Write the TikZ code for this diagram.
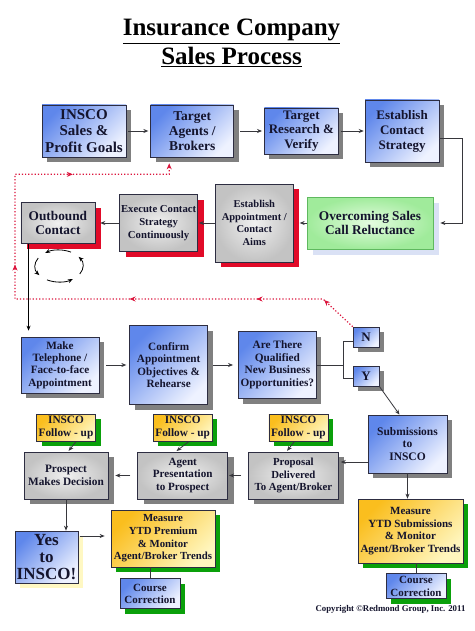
\documentclass[tikz,border=0pt]{standalone}
\usepackage{fontspec}
\setmainfont{Liberation Serif}
\usepackage{tikz}
\usetikzlibrary{shapes,arrows.meta,positioning,shadows,decorations.markings,calc}

\definecolor{ink}{RGB}{20,20,45}
\definecolor{boxline}{RGB}{45,45,65}
\definecolor{blueA}{RGB}{95,135,235}
\definecolor{blueB}{RGB}{238,242,255}
\definecolor{goldA}{RGB}{250,190,30}
\definecolor{goldB}{RGB}{255,246,190}
\definecolor{greyA}{RGB}{240,240,240}
\definecolor{greyB}{RGB}{195,195,195}
\definecolor{greenA}{RGB}{228,252,224}
\definecolor{greenB}{RGB}{160,235,155}
\definecolor{greenline}{RGB}{95,185,95}
\definecolor{shadegray}{RGB}{128,128,128}
\definecolor{shadered}{RGB}{225,10,40}
\definecolor{shadegreen}{RGB}{10,160,10}
\definecolor{shadelilac}{RGB}{218,225,245}
\definecolor{shadecream}{RGB}{255,248,195}
\definecolor{fbred}{RGB}{220,20,60}
\definecolor{linkgray}{RGB}{55,55,60}

\begin{document}
\begin{tikzpicture}[
    x=1pt, y=-1pt,
    >={Stealth[length=5pt,width=4pt]},
    txt/.style 2 args={font=\fontsize{#1}{#2}\selectfont\bfseries},
    box/.style={rectangle, draw=boxline, line width=0.7pt, align=center, inner sep=1pt, text=ink},
    bluebox/.style={box, left color=blueA, right color=blueB, shading angle=45, drop shadow={shadow xshift=5pt, shadow yshift=-5pt, fill=#1, opacity=1}},
    bluebox/.default=shadegray,
    greybox/.style={box, inner color=greyA, outer color=greyB, drop shadow={shadow xshift=6pt, shadow yshift=-5pt, fill=#1, opacity=1}},
    greybox/.default=shadered,
    goldbox/.style={box, left color=goldA, right color=goldB, shading angle=45, drop shadow={shadow xshift=5pt, shadow yshift=-5pt, fill=shadegreen, opacity=1}},
    greenbox/.style={box, draw=greenline, inner color=greenA, outer color=greenB, drop shadow={shadow xshift=6pt, shadow yshift=-6pt, fill=shadelilac, opacity=1}},
    link/.style={draw=linkgray, line width=0.8pt},
    feedback/.style={draw=fbred, line width=1.2pt, dotted}
]
\fill[white] (0,0) rectangle (474,631);
\useasboundingbox (0,0) rectangle (474,631);

% Title
\node[txt={25}{28}, anchor=base] (title1) at (231.5,36) {\underline{Insurance Company}};
\node[txt={25}{28}, anchor=base] (title2) at (231.5,65) {\underline{Sales Process}};

% Planning row
\node[bluebox, txt={15}{16.7}, minimum width=84pt, minimum height=52pt] (goals) at (84,131) {INSCO\\Sales \&\\Profit Goals};
\node[bluebox, txt={13.5}{15}, minimum width=83pt, minimum height=52pt, right=24pt of goals] (agents) {Target\\Agents /\\Brokers};
\node[bluebox, txt={13}{14.7}, minimum width=74pt, minimum height=46pt, right=30pt of agents] (research) {Target\\Research \&\\Verify};
\node[bluebox, txt={13}{15}, minimum width=74pt, minimum height=62pt, right=26pt of research] (strategy) {Establish\\Contact\\Strategy};

% Contact row
\node[greenbox, txt={13.3}{14}, minimum width=126pt, minimum height=52pt] (overcome) at (370,223) {Overcoming Sales\\Call Reluctance};
\node[greybox, txt={10.5}{12.7}, minimum width=78pt, minimum height=78pt, left=13pt of overcome] (appoint) {Establish\\Appointment /\\Contact\\Aims};
\node[greybox, txt={10.7}{12.7}, minimum width=78pt, minimum height=57pt, left=17pt of appoint] (execute) {Execute Contact\\Strategy\\Continuously};
\node[greybox, txt={13.3}{14}, minimum width=74pt, minimum height=41pt, left=24pt of execute] (outbound) {Outbound\\Contact};

% Appointment row
\node[bluebox, txt={11.2}{12.3}, minimum width=78pt, minimum height=56pt] (make) at (60,365) {Make\\Telephone /\\Face-to-face\\Appointment};
\node[bluebox, txt={11.2}{12.4}, minimum width=78pt, minimum height=79pt, right=30pt of make] (confirm) {Confirm\\Appointment\\Objectives \&\\Rehearse};
\node[bluebox, txt={11.3}{12.5}, minimum width=78pt, minimum height=67pt, right=30pt of confirm] (question) {Are There\\Qualified\\New Business\\Opportunities?};
\node[bluebox, txt={13}{14}, minimum width=26pt, minimum height=20pt] (N) at (366,337) {N};
\node[bluebox, txt={13}{14}, minimum width=26pt, minimum height=20pt] (Y) at (366,376) {Y};

% Proposal row
\node[greybox=shadegray, txt={11.3}{12.5}, minimum width=84pt, minimum height=47pt] (prospect) at (66,475.5) {Prospect\\Makes Decision};
\node[greybox=shadegray, txt={11.1}{12.5}, minimum width=90pt, minimum height=47pt, right=29pt of prospect] (agent) {Agent\\Presentation\\to Prospect};
\node[greybox=shadegray, txt={10.8}{12.5}, minimum width=90pt, minimum height=47pt, right=20pt of agent] (proposal) {Proposal\\Delivered\\To Agent/Broker};
\node[bluebox, txt={11.5}{12.5}, minimum width=79pt, minimum height=58pt] (subm) at (407.5,444) {Submissions\\to\\INSCO};
\node[goldbox, txt={11.3}{12.7}, minimum width=59pt, minimum height=27pt, above=10pt of prospect] (fupA) {INSCO\\Follow - up};
\node[goldbox, txt={11.3}{12.7}, minimum width=59pt, minimum height=27pt, above=10pt of agent] (fupB) {INSCO\\Follow - up};
\node[goldbox, txt={11.3}{12.7}, minimum width=59pt, minimum height=27pt, above=10pt of proposal, xshift=5pt] (fupC) {INSCO\\Follow - up};

% Results row
\node[bluebox=shadecream, txt={17}{16.7}, minimum width=63pt, minimum height=52pt] (yes) at (46.5,557) {Yes\\to\\INSCO!};
\node[goldbox, txt={10.8}{12.7}, minimum width=104pt, minimum height=57pt] (measureP) at (163,538.5) {Measure\\YTD Premium\\\& Monitor\\Agent/Broker Trends};
\node[bluebox=shadegreen, txt={11}{12.5}, minimum width=60pt, minimum height=30pt, below=11pt of measureP, xshift=-13pt] (courseL) {Course\\Correction};
\node[goldbox, txt={11}{12.7}, minimum width=105pt, minimum height=64pt] (measureS) at (410.5,531) {Measure\\YTD Submissions\\\& Monitor\\Agent/Broker Trends};
\node[bluebox=shadegreen, txt={11}{12.5}, minimum width=60pt, minimum height=25pt, below=10pt of measureS, xshift=5.5pt] (courseR) {Course\\Correction};

\node[txt={8.8}{10}, text=ink] (copy) at (390.5,609) {Copyright ©Redmond Group, Inc. 2011};

% Arrows
\draw[link, ->, shorten <=2pt, shorten >=2pt] (goals) -- (agents);
\draw[link, ->, shorten <=6pt, shorten >=2pt] (agents) -- (research);
\draw[link, ->, shorten <=2pt, shorten >=1pt] (research) -- (strategy);
\draw[link, ->, shorten >=7pt] ([yshift=-7pt]strategy.east) -- ++(23,0) |- (overcome.east);
\draw[link, ->, shorten >=6pt] (overcome) -- (appoint);
\draw[link, ->, shorten >=1pt] (appoint) -- (execute);
\draw[link, ->, shorten >=5pt] (execute) -- (outbound);
\draw[->, black, line width=1.2pt, shorten >=6pt] ([xshift=8pt]outbound.south west) -- ([xshift=8pt]outbound.south west |- make.north);

% Cycle
\coordinate (cyc) at (59,266);
\foreach \a in {60,150,240,330}
    \draw[->, black, line width=0.8pt] ([shift={(\a:24pt and 16pt)}]cyc) arc[start angle=\a, end angle=\a+65, x radius=24pt, y radius=16pt];

\draw[link, ->, shorten <=7pt, shorten >=3pt] (make) -- (confirm);
\draw[link, ->, shorten <=5pt, shorten >=5pt] (confirm) -- (question);
\draw[link] (question.east) -- ++(27,0) coordinate (fork);
\draw[link] (fork) |- ([yshift=-4pt]N.west);
\draw[link] (fork) |- ([yshift=-2pt]Y.west);
\draw[link, ->] (Y.south east) -- ([xshift=-8pt]subm.north);

% Feedback loop
\coordinate (fbturn) at (323,299);
\coordinate (fbleft) at (15,299);
\coordinate (fbtop) at ([xshift=-23pt, yshift=-6pt]agents.south);
\draw[feedback, -{Stealth[length=6pt,width=5pt]}, postaction={decorate},
    decoration={markings,
        mark=at position 39pt with {\arrow{Stealth[length=6pt,width=5pt]}},
        mark=at position 107pt with {\arrow{Stealth[length=6pt,width=5pt]}},
        mark=at position 234pt with {\arrow{Stealth[length=6pt,width=5pt]}},
        mark=at position 383pt with {\arrow{Stealth[length=6pt,width=5pt]}},
        mark=at position 531pt with {\arrow{Stealth[length=6pt,width=5pt]}}}]
    (N.north west) -- (fbturn) -- (fbleft) |- ([yshift=-11pt]fbtop) -- (fbtop);

\draw[link, ->, shorten >=2pt] ([yshift=-18pt]subm.west) -- ([yshift=-18pt]subm.west -| proposal.east);
\draw[link, ->, shorten <=7pt, shorten >=1pt] (proposal) -- (agent);
\draw[link, ->, shorten <=7pt, shorten >=7pt] (agent) -- (prospect);
\draw[link, ->, shorten >=1pt] ([xshift=10pt]fupA.south) -- ([xshift=2pt]prospect.north);
\draw[link, ->, shorten >=1pt] ([xshift=6pt]fupB.south) -- ([xshift=-7pt]agent.north);
\draw[link, ->, shorten >=1pt] ([xshift=-4pt]fupC.south) -- ([xshift=-7pt]proposal.north);
\draw[link, ->] (prospect.south) -- (prospect.south |- yes.north);
\draw[link, ->, shorten <=2pt, shorten >=6pt] ([yshift=21pt]yes.east) -- ([yshift=21pt]yes.east -| measureP.west);
\draw[link] (measureP.south -| courseL.north) -- (courseL.north);
\draw[link, ->] (subm.south) -- (subm.south |- measureS.north);
\draw[link] (courseR.north |- measureS.south) -- (courseR.north);

\end{tikzpicture}
\end{document}
